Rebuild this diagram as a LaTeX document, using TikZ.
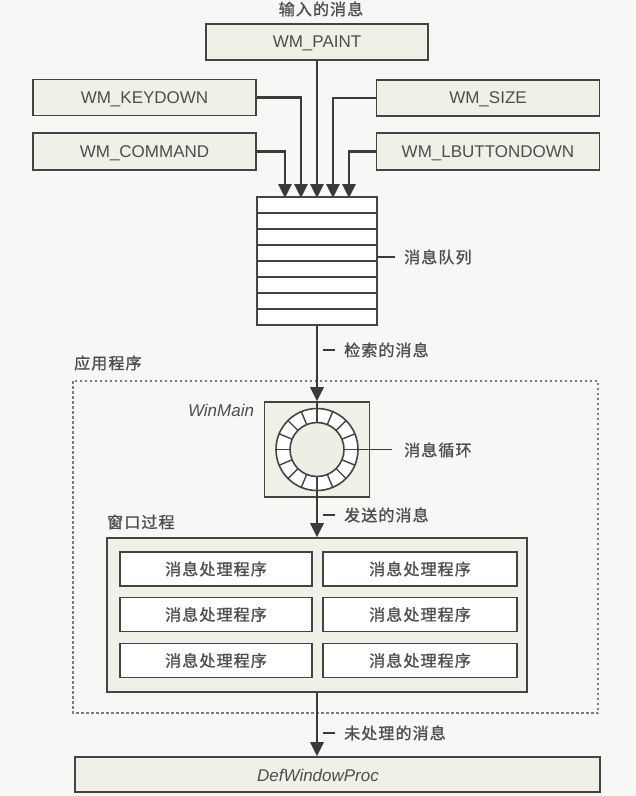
\documentclass[tikz,border=0pt]{standalone}
\usepackage{fontspec}
\setmainfont{Liberation Sans}
\newfontfamily\cjk[LetterSpace=7,FakeBold=1.2]{Noto Sans CJK SC}
\usetikzlibrary{arrows.meta,calc}
\definecolor{bg}{HTML}{F7F7F6}
\definecolor{bd}{HTML}{444444}
\definecolor{ar}{HTML}{3A3A3A}
\definecolor{tx}{HTML}{4E4E4E}
\definecolor{beige}{HTML}{F1F0E7}
\definecolor{inner}{HTML}{EDEFE4}
\newcommand\cjkf{\cjk\fontsize{16}{18}\selectfont}
\begin{document}
\begin{tikzpicture}[x=1pt,y=-1pt,
  box/.style={draw=bd,line width=1.6pt,fill=beige,text=tx,font=\fontsize{17}{19}\selectfont,inner sep=0pt,text depth=0pt},
  wmbox/.style={box,minimum width=223pt,minimum height=36pt},
  hbox/.style={draw=bd,line width=1.6pt,fill=white,text=tx,font=\cjkf,minimum height=34pt,inner sep=0pt},
  lab/.style={text=tx,font=\cjkf,inner sep=0pt},
  arr/.style={draw=ar,line width=2.8pt,-{Triangle[length=14pt,width=13pt]}},
  lead/.style={draw=ar,line width=1.4pt},
  app/.style={draw=bd!70,line width=1.6pt,dash pattern=on 2.5pt off 2.5pt}]
\fill[bg] (0,0) rectangle (636,796);
\useasboundingbox (0,0) rectangle (636,796);

% input messages
\node[lab] (title) at (321,9) {输入的消息};
\node[wmbox,minimum width=222pt] (paint) at (317,42) {WM\_PAINT};
\node[wmbox] (kd) at (144.5,97.5) {WM\_KEYDOWN};
\node[wmbox,minimum height=37pt] (cmd) at (144.5,151.5) {WM\_COMMAND};
\node[wmbox] (sz) at (488,98) {WM\_SIZE};
\node[wmbox,minimum height=37pt] (lb) at (488,151.5) {WM\_LBUTTONDOWN};

% queue
\node[draw=bd,line width=1.6pt,fill=white,minimum width=120pt,minimum height=128pt,inner sep=0pt] (q) at (317,261) {};
\foreach \i in {1,...,7} \draw[bd,line width=1.4pt] (257,197+16*\i) -- (377,197+16*\i);
\coordinate (q1) at (285,198);
\coordinate (q2) at (301,198);
\coordinate (q3) at (317,198);
\coordinate (q4) at (333,198);
\coordinate (q5) at (349,198);
\draw[arr] (cmd.east) -| (q1);
\draw[arr] (kd.east) -| (q2);
\draw[arr] (paint.south) -- (q3);
\draw[arr] (sz.west) -| (q4);
\draw[arr] (lb.west) -| (q5);
\coordinate (qa) at (377,257);
\coordinate (qb) at (395,257);
\draw[lead] (qa) -- (qb);
\node[lab,anchor=west] (qlab) at (404,257) {消息队列};

% application
\draw[app] (73,381) rectangle (598,713);
\node[lab,anchor=west] (applab) at (74,363) {应用程序};

% WinMain
\node[draw=bd,line width=1.6pt,fill=beige,minimum width=105pt,minimum height=95pt,inner sep=0pt] (wm) at (317,449.5) {};
\node[text=tx,font=\itshape\fontsize{17}{19}\selectfont,inner sep=0pt] (wmlab) at (221,410) {WinMain};
\draw[arr] (q.south) -- (wm.north);
\fill[white] (317,449.5) circle (41);
\fill[inner] (317,449.5) circle (27);
\foreach \a in {0,22.5,...,337.5}
  \draw[bd,line width=1.4pt] ($(317,449.5)+(\a:27)$) -- ($(317,449.5)+(\a:41)$);
\draw[bd,line width=1.6pt] (317,449.5) circle (41);
\draw[bd,line width=1.6pt] (317,449.5) circle (27);
\coordinate (ringtop) at (317,408.5);
\coordinate (ringbot) at (317,490.5);
\draw[ar,line width=2.8pt] (wm.north) -- (ringtop);
\coordinate (la) at (358,449.5);
\coordinate (lb2) at (392,449.5);
\draw[lead] (la) -- (lb2);
\node[lab,anchor=west] (looplab) at (404,450) {消息循环};

\coordinate (ra) at (323,350);
\coordinate (rb) at (335,350);
\draw[lead] (ra) -- (rb);
\node[lab,anchor=west] (retlab) at (344,350) {检索的消息};

% window procedure
\node[draw=bd,line width=1.6pt,fill=beige,minimum width=420pt,minimum height=154pt,inner sep=0pt] (proc) at (317,615) {};
\node[lab,anchor=west] (proclab) at (107,522) {窗口过程};
\draw[arr] (ringbot) -- (proc.north);
\coordinate (sa) at (323,515);
\coordinate (sb) at (335,515);
\draw[lead] (sa) -- (sb);
\node[lab,anchor=west] (sendlab) at (344,515) {发送的消息};

\node[hbox,minimum width=192pt] (h1) at (216,569) {消息处理程序};
\node[hbox,minimum width=194pt] (h2) at (420,569) {消息处理程序};
\node[hbox,minimum width=192pt] (h3) at (216,614.5) {消息处理程序};
\node[hbox,minimum width=194pt] (h4) at (420,614.5) {消息处理程序};
\node[hbox,minimum width=192pt] (h5) at (216,660.5) {消息处理程序};
\node[hbox,minimum width=194pt] (h6) at (420,660.5) {消息处理程序};

% DefWindowProc
\node[box,minimum width=525pt,minimum height=35pt] (def) at (337.5,774.5) {};
\node[text=tx,font=\itshape\fontsize{17}{19}\selectfont,inner sep=0pt,text depth=0pt] (deftext) at (318,775) {DefWindowProc};
\draw[arr] (proc.south) -- (proc.south |- def.north);
\coordinate (ua) at (323,733);
\coordinate (ub) at (335,733);
\draw[lead] (ua) -- (ub);
\node[lab,anchor=west] (unlab) at (344,733) {未处理的消息};
\end{tikzpicture}
\end{document}
